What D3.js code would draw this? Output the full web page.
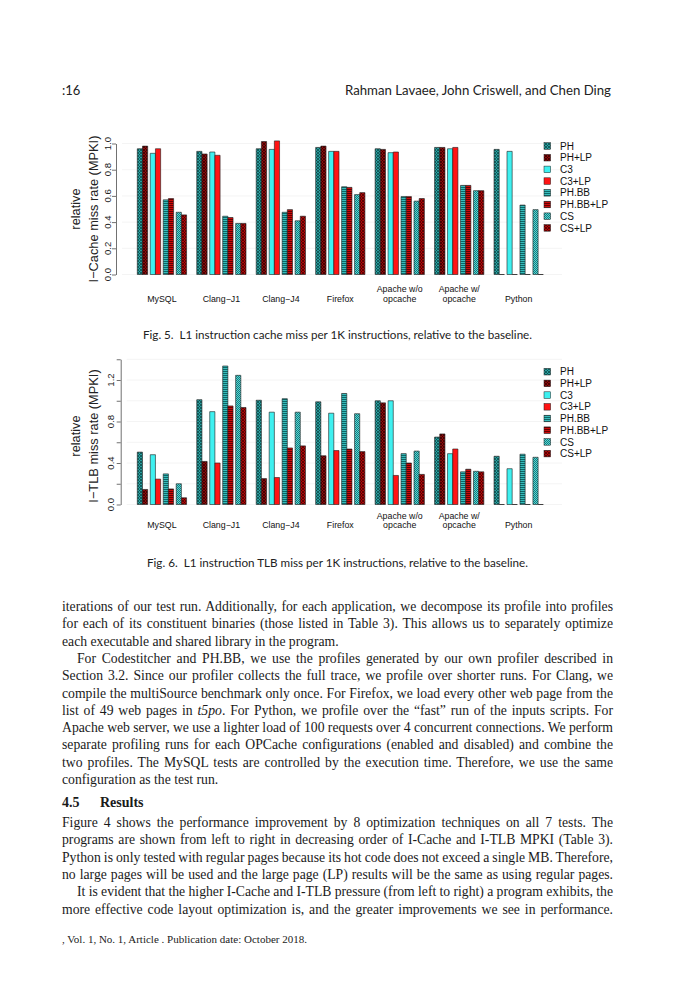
<!DOCTYPE html>
<html><head><meta charset="utf-8">
<script src="https://cdn.jsdelivr.net/npm/d3@7"></script>
<style>
body{margin:0;background:#fff}
svg{display:block}
text{white-space:pre}
</style>
</head><body>
<svg id="page" width="675" height="1000"></svg>
<script>
// ---------------- DATA ----------------
const categories = ["MySQL", "Clang−J1", "Clang−J4", "Firefox", "Apache w/o opcache", "Apache w/ opcache", "Python"];
const categoryLabelLines = [["MySQL"], ["Clang−J1"], ["Clang−J4"], ["Firefox"], ["Apache w/o", "opcache"], ["Apache w/", "opcache"], ["Python"]];
const seriesNames = ["PH", "PH+LP", "C3", "C3+LP", "PH.BB", "PH.BB+LP", "CS", "CS+LP"];

// Fig. 5: relative I-Cache MPKI (one array per series, over categories)
const icachePH      = [0.96, 0.94, 0.96, 0.97, 0.96, 0.97, 0.955];
const icachePHLP    = [0.98, 0.92, 1.015, 0.98, 0.955, 0.97, 0];
const icacheC3      = [0.925, 0.935, 0.955, 0.94, 0.93, 0.96, 0.94];
const icacheC3LP    = [0.96, 0.91, 1.02, 0.94, 0.935, 0.97, 0];
const icachePHBB    = [0.57, 0.445, 0.475, 0.67, 0.595, 0.68, 0.53];
const icachePHBBLP  = [0.58, 0.435, 0.495, 0.665, 0.595, 0.68, 0];
const icacheCS      = [0.475, 0.39, 0.41, 0.61, 0.56, 0.64, 0.495];
const icacheCSLP    = [0.455, 0.39, 0.445, 0.625, 0.58, 0.64, 0];

// Fig. 6: relative I-TLB MPKI
const itlbPH      = [0.505, 1.01, 1.005, 0.99, 1.0, 0.65, 0.465];
const itlbPHLP    = [0.145, 0.415, 0.25, 0.47, 0.98, 0.68, 0];
const itlbC3      = [0.48, 0.895, 0.89, 0.88, 1.0, 0.49, 0.345];
const itlbC3LP    = [0.245, 0.40, 0.26, 0.52, 0.28, 0.535, 0];
const itlbPHBB    = [0.295, 1.335, 1.02, 1.07, 0.49, 0.315, 0.485];
const itlbPHBBLP  = [0.15, 0.95, 0.545, 0.535, 0.40, 0.34, 0];
const itlbCS      = [0.20, 1.245, 0.89, 0.875, 0.515, 0.32, 0.455];
const itlbCSLP    = [0.065, 0.935, 0.565, 0.51, 0.29, 0.315, 0];

const icacheTicks = [0, 0.2, 0.4, 0.6, 0.8, 1.0];
const icacheTickLabels = ["0.0", "0.2", "0.4", "0.6", "0.8", "1.0"];
const itlbTicks = [0, 0.2, 0.4, 0.6, 0.8, 1.0, 1.2, 1.4];
const itlbTickLabels = ["0.0", "", "0.4", "", "0.8", "", "1.2", ""];

// ---------------- STYLES ----------------
const seriesStyles = [
  {id: "pPH",     base: "#2a9f9f", ink: "#0a4d4d", kind: "cross"},
  {id: "pPHLP",   base: "#8a0c0c", ink: "#3a0000", kind: "cross"},
  {id: "pC3",     base: "#3ef0f0", kind: "solid"},
  {id: "pC3LP",   base: "#ff1414", kind: "solid"},
  {id: "pPHBB",   base: "#36bcbc", ink: "#0d6666", kind: "hstripe"},
  {id: "pPHBBLP", base: "#cc0a0a", ink: "#640000", kind: "hstripe"},
  {id: "pCS",     base: "#58d4d4", ink: "#157c7c", kind: "checker"},
  {id: "pCSLP",   base: "#ad0808", ink: "#4e0000", kind: "cross"}
];

const svg = d3.select("#page");
const defs = svg.append("defs");
seriesStyles.forEach(s => {
  if (s.kind === "solid") return;
  const size = s.kind === "cross" ? 3 : 2;
  const p = defs.append("pattern").attr("id", s.id).attr("patternUnits", "userSpaceOnUse")
    .attr("width", size).attr("height", size);
  p.append("rect").attr("width", size).attr("height", size).attr("fill", s.base);
  if (s.kind === "cross") {
    p.append("path").attr("d", "M0,0L3,3M3,0L0,3").attr("stroke", s.ink).attr("stroke-width", 0.8);
  } else if (s.kind === "hstripe") {
    p.append("rect").attr("y", 1).attr("width", 2).attr("height", 1).attr("fill", s.ink);
  } else if (s.kind === "checker") {
    p.append("rect").attr("width", 1).attr("height", 1).attr("fill", s.ink);
    p.append("rect").attr("x", 1).attr("y", 1).attr("width", 1).attr("height", 1).attr("fill", s.ink);
  }
});
const fillOf = i => seriesStyles[i].kind === "solid" ? seriesStyles[i].base : `url(#${seriesStyles[i].id})`;

// ---------------- CHARTS ----------------
const xGroup = d3.scaleBand().domain(categories).range([137.3, 543.3]).paddingInner(0.1714).paddingOuter(0);
const xPair = d3.scaleBand().domain([0, 1, 2, 3]).range([0, xGroup.bandwidth()]).paddingInner(0.2).paddingOuter(0);
const xInPair = d3.scaleBand().domain([0, 1]).range([0, xPair.bandwidth()]).padding(0);
const chartFont = "'Liberation Sans', Arial, sans-serif";

function drawChart(cfg) {
  const g = svg.append("g");
  const y = d3.scaleLinear().domain([0, cfg.max]).range([cfg.y0, cfg.yTop]);

  // faint grid
  g.append("g").selectAll("line").data(cfg.ticks).join("line")
    .attr("x1", cfg.axisX + 6).attr("x2", 562)
    .attr("y1", d => y(d)).attr("y2", d => y(d))
    .attr("stroke", "#f1f1f1").attr("stroke-width", 0.8);

  // bars
  const rows = [];
  cfg.series.forEach((vals, si) => {
    vals.forEach((v, ci) => rows.push({si, ci, v}));
  });
  g.append("g").selectAll("path").data(rows).join("path")
    .attr("d", d => {
      const x = xGroup(categories[d.ci]) + xPair(Math.floor(d.si / 2)) + xInPair(d.si % 2);
      const w = xInPair.bandwidth();
      return `M${x},${y(0)}V${y(d.v)}H${x + w}V${y(0)}Z`;
    })
    .attr("fill", d => fillOf(d.si))
    .attr("stroke", "#1d1d1d").attr("stroke-width", 0.6);

  // y axis
  const ax = g.append("g").attr("transform", `translate(${cfg.axisX},0)`)
    .call(d3.axisLeft(y).tickValues(cfg.ticks).tickSize(4).tickSizeOuter(0).tickFormat(""));
  ax.selectAll("path,line").attr("stroke", "#333").attr("stroke-width", 0.7);
  g.append("g").selectAll("text").data(cfg.ticks.map((t, i) => ({t, l: cfg.tickLabels[i]})).filter(d => d.l))
    .join("text")
    .attr("transform", d => `translate(${cfg.labelX},${y(d.t)}) rotate(-90)`)
    .attr("text-anchor", "middle")
    .attr("font-family", chartFont).attr("font-size", 9.6)
    .attr("fill", "#222")
    .text(d => d.l);

  // y title
  [[cfg.title1, 80], [cfg.title2, 97.5]].forEach(([t, x]) => {
    g.append("text").attr("transform", `translate(${x},${cfg.titleY}) rotate(-90)`)
      .attr("text-anchor", "middle")
      .attr("font-family", chartFont).attr("font-size", 12.8)
      .attr("fill", "#222").text(t);
  });

  // category labels
  categoryLabelLines.forEach((lines, ci) => {
    const cx = xGroup(categories[ci]) + xGroup.bandwidth() / 2;
    lines.forEach((ln, li) => {
      const base = lines.length === 1 ? cfg.catBase2 : (li === 0 ? cfg.catBase1 : cfg.catBase2);
      g.append("text").attr("x", cx).attr("y", base).attr("text-anchor", "middle")
        .attr("font-family", chartFont).attr("font-size", 8.8)
        .attr("fill", "#111").text(ln);
    });
  });

  // legend
  const lg = g.append("g");
  seriesNames.forEach((name, i) => {
    const cy = cfg.legendY + i * 11.7;
    lg.append("rect").attr("x", 544).attr("y", cy - 3.3).attr("width", 6.6).attr("height", 6.6)
      .attr("fill", fillOf(i)).attr("stroke", "#1d1d1d").attr("stroke-width", 0.5);
    lg.append("text").attr("x", 560).attr("y", cy + 3.6)
      .attr("font-family", chartFont).attr("font-size", 10)
      .attr("fill", "#111").text(name);
  });
}

drawChart({
  series: [icachePH, icachePHLP, icacheC3, icacheC3LP, icachePHBB, icachePHBBLP, icacheCS, icacheCSLP],
  max: 1.0, y0: 274.5, yTop: 143.5, axisX: 116, labelX: 111,
  ticks: icacheTicks, tickLabels: icacheTickLabels,
  title1: "relative", title2: "I−Cache miss rate (MPKI)", titleY: 209,
  catBase1: 292, catBase2: 302, legendY: 146
});
drawChart({
  series: [itlbPH, itlbPHLP, itlbC3, itlbC3LP, itlbPHBB, itlbPHBBLP, itlbCS, itlbCSLP],
  max: 1.4, y0: 504.5, yTop: 359.25, axisX: 120.7, labelX: 114,
  ticks: itlbTicks, tickLabels: itlbTickLabels,
  title1: "relative", title2: "I−TLB miss rate (MPKI)", titleY: 436,
  catBase1: 518.5, catBase2: 528, legendY: 371.7
});

// ---------------- PAGE TEXT ----------------
const sans = "'Linux Biolinum O', Lato, 'Liberation Sans', sans-serif";
const serif = "'Linux Libertine O', 'Liberation Serif', 'Times New Roman', serif";

svg.append("text").attr("x", 62).attr("y", 95).attr("font-family", sans).attr("font-size", 13)
  .attr("fill", "#222").text(":16");
svg.append("text").attr("x", 345).attr("y", 95).attr("font-family", sans).attr("font-size", 13)
  .attr("fill", "#222").attr("textLength", 266).attr("lengthAdjust", "spacingAndGlyphs")
  .text("Rahman Lavaee, John Criswell, and Chen Ding");

svg.append("text").attr("x", 143).attr("y", 338.5).attr("font-family", sans).attr("font-size", 10.8)
  .attr("fill", "#222").attr("textLength", 389).attr("lengthAdjust", "spacingAndGlyphs")
  .text("Fig. 5.  L1 instruction cache miss per 1K instructions, relative to the baseline.");
svg.append("text").attr("x", 147).attr("y", 567).attr("font-family", sans).attr("font-size", 10.8)
  .attr("fill", "#222").attr("textLength", 381).attr("lengthAdjust", "spacingAndGlyphs")
  .text("Fig. 6.  L1 instruction TLB miss per 1K instructions, relative to the baseline.");

const bodyLines = [
  {t: "iterations of our test run. Additionally, for each application, we decompose its profile into profiles", j: true},
  {t: "for each of its constituent binaries (those listed in Table 3). This allows us to separately optimize", j: true},
  {t: "each executable and shared library in the program.", j: false},
  {t: "For Codestitcher and PH.BB, we use the profiles generated by our own profiler described in", j: true, ind: true},
  {t: "Section 3.2. Since our profiler collects the full trace, we profile over shorter runs. For Clang, we", j: true},
  {t: "compile the multiSource benchmark only once. For Firefox, we load every other web page from the", j: true},
  {t: "list of 49 web pages in |t5po|. For Python, we profile over the “fast” run of the inputs scripts. For", j: true},
  {t: "Apache web server, we use a lighter load of 100 requests over 4 concurrent connections. We perform", j: true},
  {t: "separate profiling runs for each OPCache configurations (enabled and disabled) and combine the", j: true},
  {t: "two profiles. The MySQL tests are controlled by the execution time. Therefore, we use the same", j: true},
  {t: "configuration as the test run.", j: false},
  {t: "Figure 4 shows the performance improvement by 8 optimization techniques on all 7 tests. The", j: true, y: 827},
  {t: "programs are shown from left to right in decreasing order of I-Cache and I-TLB MPKI (Table 3).", j: true},
  {t: "Python is only tested with regular pages because its hot code does not exceed a single MB. Therefore,", j: true},
  {t: "no large pages will be used and the large page (LP) results will be the same as using regular pages.", j: true},
  {t: "It is evident that the higher I-Cache and I-TLB pressure (from left to right) a program exhibits, the", j: true, ind: true},
  {t: "more effective code layout optimization is, and the greater improvements we see in performance.", j: true}
];
const leftX = 62, rightX = 613, pitch = 17.3;
let yb = 611;
bodyLines.forEach(L => {
  if (L.y) yb = L.y;
  const x = L.ind ? 77 : leftX;
  const tx = svg.append("text").attr("x", x).attr("y", yb).attr("font-family", serif)
    .attr("font-size", 13.7).attr("fill", "#1a1a1a");
  L.t.split("|").forEach((part, k) => {
    tx.append("tspan").attr("font-style", k % 2 ? "italic" : "normal").text(part);
  });
  if (L.j) {
    const nat = tx.node().getComputedTextLength();
    const spaces = (L.t.match(/ /g) || []).length;
    tx.attr("word-spacing", ((rightX - x) - nat) / spaces);
  }
  yb += pitch;
});

svg.append("text").attr("x", 62).attr("y", 807).attr("font-family", serif).attr("font-size", 14)
  .attr("font-weight", "bold").attr("fill", "#1a1a1a").text("4.5");
svg.append("text").attr("x", 100).attr("y", 807).attr("font-family", serif).attr("font-size", 14)
  .attr("font-weight", "bold").attr("fill", "#1a1a1a").text("Results");

svg.append("text").attr("x", 62).attr("y", 943).attr("font-family", serif).attr("font-size", 11)
  .attr("fill", "#222").text(", Vol. 1, No. 1, Article . Publication date: October 2018.");
</script>
</body></html>
